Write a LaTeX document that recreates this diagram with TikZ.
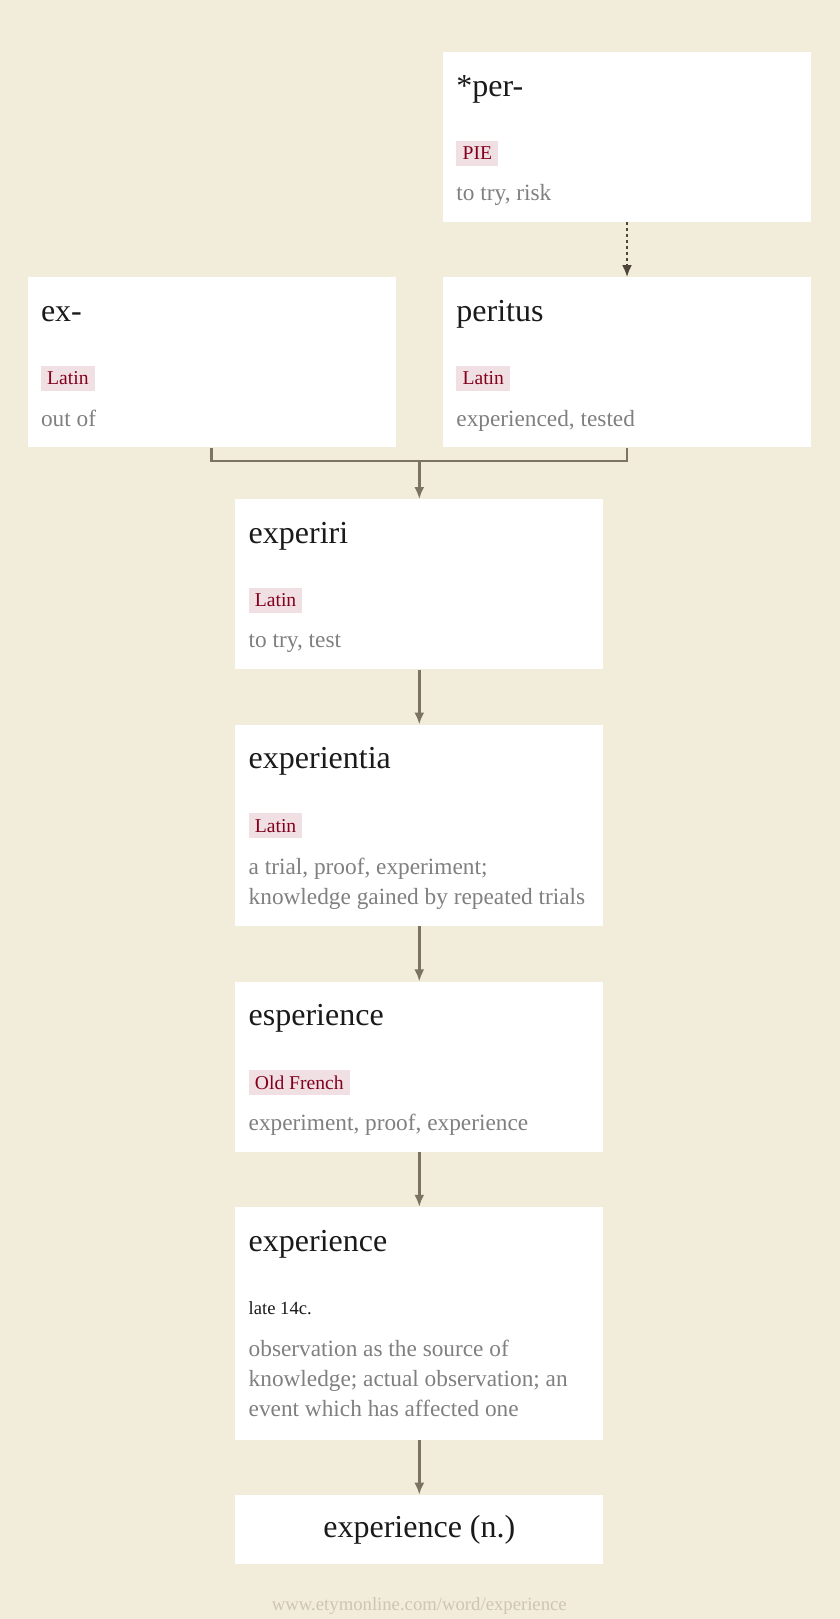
\documentclass[tikz,border=0pt]{standalone}
\usepackage{fontspec}
\setmainfont{Liberation Serif}
\usetikzlibrary{positioning,calc,arrows.meta}

\definecolor{bgbeige}{RGB}{242,236,218}
\definecolor{hwblack}{RGB}{26,26,26}
\definecolor{glossgray}{RGB}{128,128,128}
\definecolor{tagpink}{RGB}{241,224,227}
\definecolor{tagred}{RGB}{130,0,30}
\definecolor{linkbrown}{RGB}{123,116,100}
\definecolor{dotbrown}{RGB}{78,70,58}
\definecolor{footgray}{RGB}{205,197,181}

\begin{document}
\begin{tikzpicture}[
          x=1pt,y=1pt,
          node distance=55pt and 47pt,
          box/.style={fill=white,inner sep=0pt,minimum width=368pt},
          hw/.style={font=\fontsize{32}{37}\selectfont,text=hwblack,anchor=base west,inner sep=0pt},
          lang/.style={font=\fontsize{19.6}{23}\selectfont,text=tagred,fill=tagpink,inner xsep=6.2pt,inner ysep=0pt,minimum height=25pt,anchor=west},
          gloss/.style={font=\fontsize{23.3}{30}\selectfont,text=glossgray,anchor=base west,inner sep=0pt,align=left},
          datum/.style={font=\fontsize{18.6}{22}\selectfont,text=hwblack,anchor=base west,inner sep=0pt},
          link/.style={draw=linkbrown,line width=2.6pt,-{Latex[length=12pt,width=10pt]}}
            ]
            \useasboundingbox (0,0) rectangle (840,-1619);
            \fill[bgbeige] (0,0) rectangle (840,-1619);
            % boxes
            \node[box,minimum height=170pt] (per) at (627,-137) {};
            \node[box,minimum height=170pt,below=of per] (peritus) {};
            \node[box,minimum height=170pt,left=of peritus] (ex) {};
            \coordinate (jn) at ($(ex.south)!.5!(peritus.south)+(0,-13.5)$);
            \node[box,minimum height=170pt,below=38pt of jn] (experiri) {};
            \node[box,minimum height=201.5pt,below=of experiri] (experientia) {};
            \node[box,minimum height=170pt,below=of experientia] (esperience) {};
            \node[box,minimum height=232.5pt,below=of esperience] (experience) {};
            \node[box,minimum height=69pt,below=of experience] (final) {};
            % texts (multi-line glosses sit on their last line)
            \node[hw] (per-hw) at ([shift={(13.4,-44.4)}]per.north west) {*per-};
            \node[lang] (per-lang) at ([shift={(13.4,-101.2)}]per.north west) {PIE};
            \node[gloss] (per-gl) at ([shift={(13.4,-148.8)}]per.north west) {to try, risk};
            \node[hw] (ex-hw) at ([shift={(13.4,-44.4)}]ex.north west) {ex-};
            \node[lang] (ex-lang) at ([shift={(13.4,-101.2)}]ex.north west) {Latin};
            \node[gloss] (ex-gl) at ([shift={(13.4,-148.8)}]ex.north west) {out of};
            \node[hw] (peritus-hw) at ([shift={(13.4,-44.4)}]peritus.north west) {peritus};
            \node[lang] (peritus-lang) at ([shift={(13.4,-101.2)}]peritus.north west) {Latin};
            \node[gloss] (peritus-gl) at ([shift={(13.4,-148.8)}]peritus.north west) {experienced, tested};
            \node[hw] (experiri-hw) at ([shift={(13.4,-44.4)}]experiri.north west) {experiri};
            \node[lang] (experiri-lang) at ([shift={(13.4,-101.2)}]experiri.north west) {Latin};
            \node[gloss] (experiri-gl) at ([shift={(13.4,-148.8)}]experiri.north west) {to try, test};
            \node[hw] (experientia-hw) at ([shift={(13.4,-44.4)}]experientia.north west) {experientia};
            \node[lang] (experientia-lang) at ([shift={(13.4,-101.2)}]experientia.north west) {Latin};
            \node[gloss] (experientia-gl) at ([shift={(13.4,-179.7)}]experientia.north west) {a trial, proof, experiment;\\knowledge gained by repeated trials};
            \node[hw] (esperience-hw) at ([shift={(13.4,-44.4)}]esperience.north west) {esperience};
            \node[lang] (esperience-lang) at ([shift={(13.4,-101.2)}]esperience.north west) {Old French};
            \node[gloss] (esperience-gl) at ([shift={(13.4,-148.8)}]esperience.north west) {experiment, proof, experience};
            \node[hw] (experience-hw) at ([shift={(13.4,-44.4)}]experience.north west) {experience};
            \node[datum] (experience-date) at ([shift={(13.4,-107.4)}]experience.north west) {late 14c.};
            \node[gloss] (experience-gl) at ([shift={(13.4,-209.7)}]experience.north west) {observation as the source of\\knowledge; actual observation; an\\event which has affected one};
            \node[font=\fontsize{32}{37}\selectfont,text=hwblack] (final-hw) at (final.center) {experience (n.)};
            \node[font=\fontsize{18.7}{22}\selectfont,text=footgray] (footer) at ([yshift=-41.5pt]final.south) {www.etymonline.com/word/experience};
            % links
            \draw[link,draw=dotbrown,dash pattern=on 2.5pt off 3.5pt,-{Latex[length=12pt,width=10pt,fill=dotbrown]}] (per) -- (peritus);
            \draw[draw=linkbrown,line width=2.6pt] (ex.south) |- (jn) -| (peritus.south);
            \draw[link] (jn) -- (experiri);
            \draw[link] (experiri) -- (experientia);
            \draw[link] (experientia) -- (esperience);
            \draw[link] (esperience) -- (experience);
            \draw[link] (experience) -- (final);
            \end{tikzpicture}
\end{document}
